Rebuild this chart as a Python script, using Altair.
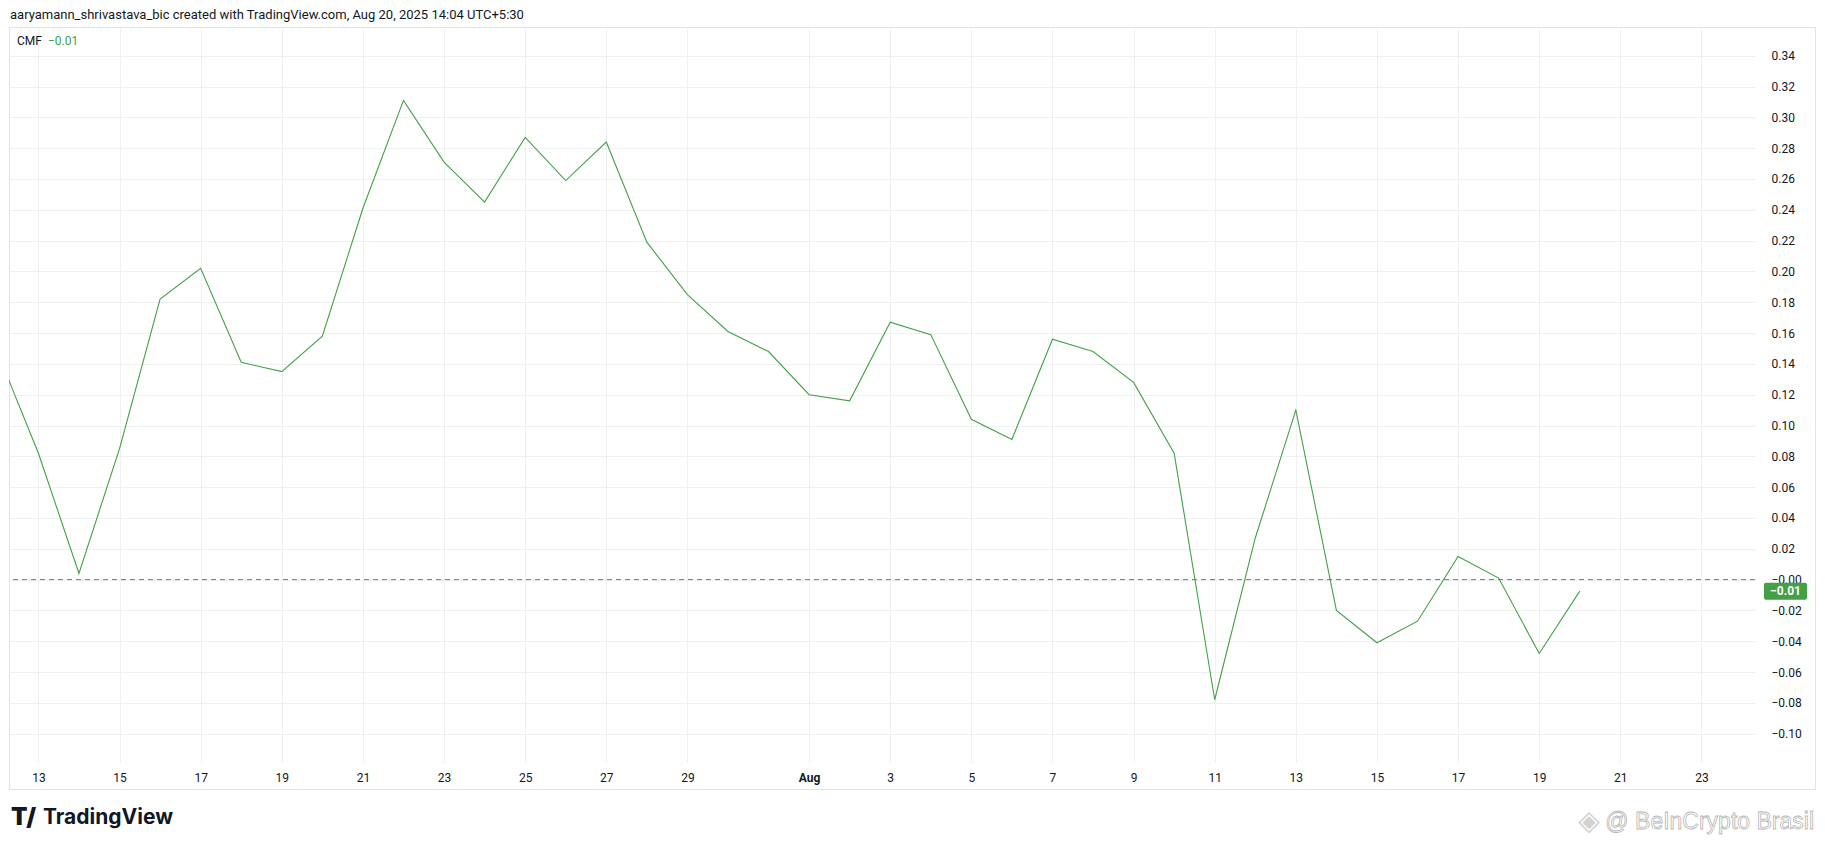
import altair as alt
import pandas as pd

# ---------------- data ----------------
start_date = "2025-07-12"
end_date = "2025-08-20"
cmf_values = [
    0.147, 0.082, 0.004, 0.085, 0.182, 0.202, 0.141, 0.135, 0.158, 0.241,
    0.311, 0.271, 0.245, 0.287, 0.259, 0.284, 0.219, 0.185, 0.161, 0.148,
    0.120, 0.116, 0.167, 0.159, 0.104, 0.091, 0.156, 0.148, 0.128, 0.082,
    -0.078, 0.027, 0.110, -0.020, -0.041, -0.027, 0.015, 0.001, -0.048, -0.0075,
]
# x tick positions as day-of-July numbers (Aug 1 = 32)
x_ticks = [13, 15, 17, 19, 21, 23, 25, 27, 29, 32, 34, 36, 38, 40, 42, 44, 46, 48, 50, 52, 54]
y_ticks = [-0.10, -0.08, -0.06, -0.04, -0.02, 0.0, 0.02, 0.04, 0.06, 0.08, 0.10,
           0.12, 0.14, 0.16, 0.18, 0.20, 0.22, 0.24, 0.26, 0.28, 0.30, 0.32, 0.34]
last_label = "\u22120.01"
header_text = "aaryamann_shrivastava_bic created with TradingView.com, Aug 20, 2025 14:04 UTC+5:30"

dates = pd.date_range(start_date, end_date, freq="D")
df = pd.DataFrame({
    "date": dates.strftime("%Y-%m-%d"),
    "day": [(d - pd.Timestamp("2025-07-01")).days + 1 for d in dates],
    "cmf": cmf_values,
})
last_val = cmf_values[-1]

# ---------------- layout ----------------
W, H = 1746, 734
X_DOMAIN = [12.275, 55.32]
Y_DOMAIN = [-0.1184, 0.358]
PX_PER_UNIT = H / (Y_DOMAIN[1] - Y_DOMAIN[0])
badge_half = 8.5 / PX_PER_UNIT

GREEN = "#43a047"
TEXT = "#131722"
GRID = "#eef0f3"
FRAME = "#e0e3eb"
FONT = "Roboto"

one = pd.DataFrame({"a": [0]})

xscale = alt.Scale(domain=X_DOMAIN, nice=False, zero=False)
yscale = alt.Scale(domain=Y_DOMAIN, nice=False, zero=False)

yaxis = alt.Axis(orient="right", values=y_ticks, grid=True, gridColor=GRID,
                 domain=False, ticks=False, labelPadding=16, labelAlign="left",
                 labelFontSize=12, labelColor=TEXT, labelFont=FONT,
                 labelOverlap=False, labelBound=False,
                 labelExpr="abs(datum.value) < 1e-9 ? '\u22120.00' : replace(format(datum.value, '.2f'), '-', '\u2212')")

line = alt.Chart(df).mark_line(color=GREEN, strokeWidth=1.1, clip=True).encode(
    x=alt.X("day:Q", scale=xscale, title=None,
            axis=alt.Axis(values=x_ticks, grid=True, gridColor=GRID, domain=False,
                          ticks=False, labelPadding=10, labelFontSize=12,
                          labelColor=TEXT, labelFont=FONT, labelOverlap=False,
                          labelFontWeight={"expr": "datum.value == 32 ? 'bold' : 'normal'"},
                          labelExpr="datum.value == 32 ? 'Aug' : (datum.value > 31 ? datum.value - 31 : datum.value)")),
    y=alt.Y("cmf:Q", scale=yscale, title=None, axis=yaxis),
)

# frame of the whole chart pane (top, bottom, left, right)
frame_top = alt.Chart(one).mark_rule(color=FRAME, strokeWidth=1).encode(
    x=alt.value(0), x2=alt.value(1807), y=alt.value(-0.5))
frame_bottom = alt.Chart(one).mark_rule(color=FRAME, strokeWidth=1).encode(
    x=alt.value(0), x2=alt.value(1807), y=alt.value(761.5))
frame_left = alt.Chart(one).mark_rule(color=FRAME, strokeWidth=1).encode(
    x=alt.value(0.5), y=alt.value(-0.5), y2=alt.value(761.5))
frame_right = alt.Chart(one).mark_rule(color=FRAME, strokeWidth=1).encode(
    x=alt.value(1806.5), y=alt.value(-0.5), y2=alt.value(761.5))

zero_rule = alt.Chart(one).mark_rule(color="#787b86", strokeDash=[5, 4], strokeWidth=1).encode(
    y=alt.Y(datum=0.0, scale=yscale, title=None, axis=yaxis)
)

badge = alt.Chart(one).mark_rect(color=GREEN, cornerRadius=2).encode(
    x=alt.value(1755), x2=alt.value(1798),
    y=alt.Y(datum=last_val - badge_half, scale=yscale, title=None, axis=yaxis),
    y2=alt.Y2(datum=last_val + badge_half),
)
badge_text = alt.Chart(one).mark_text(text=last_label, color="white", fontWeight="bold",
                                      fontSize=12, font=FONT, align="center", baseline="middle").encode(
    x=alt.value(1776.5), y=alt.Y(datum=last_val, scale=yscale, title=None, axis=yaxis)
)

header = alt.Chart(one).mark_text(text=header_text, color=TEXT, fontSize=13, font=FONT,
                                  align="left", baseline="alphabetic").encode(
    x=alt.value(1), y=alt.value(-9)
)
cmf_name = alt.Chart(one).mark_text(text="CMF", color=TEXT, fontSize=12, font=FONT,
                                    align="left", baseline="middle").encode(
    x=alt.value(8), y=alt.value(13)
)
cmf_val = alt.Chart(one).mark_text(text=last_label, color=GREEN, fontSize=12, font=FONT,
                                   align="left", baseline="middle").encode(
    x=alt.value(39), y=alt.value(13)
)

logo_mark = alt.Chart(one).mark_text(text="T/", color=TEXT, fontSize=24, font="Inter",
                                     fontWeight=900, align="left", baseline="middle").encode(
    x=alt.value(2), y=alt.value(790)
)
logo_text = alt.Chart(one).mark_text(text="TradingView", color=TEXT, fontSize=21, font="Inter",
                                     fontWeight=700, align="left", baseline="middle").encode(
    x=alt.value(34), y=alt.value(790)
)
wm_icon = alt.Chart(one).mark_text(text="\u25c8", color="#d2d2d2", fontSize=28, font="DejaVu Sans",
                                   align="center", baseline="middle").encode(
    x=alt.value(1580), y=alt.value(794)
)
wm_text = alt.Chart(one).mark_text(text="@ BeInCrypto Brasil", color="#ffffff", stroke="#b8b8b8",
                                   strokeWidth=0.8, fontSize=23, font="Liberation Sans",
                                   align="right", baseline="middle").encode(
    x=alt.value(1805), y=alt.value(794)
)

chart = alt.layer(
    frame_top, frame_bottom, frame_left, frame_right, zero_rule, line, badge, badge_text,
    header, cmf_name, cmf_val, logo_mark, logo_text, wm_icon, wm_text
).properties(
    width=W, height=H,
    autosize="none",
    background="white",
    padding={"left": 1, "top": 20, "right": 62, "bottom": 78},
).configure_view(strokeWidth=0)

chart.save("out.html", embed_options={"renderer": "svg", "actions": False})
